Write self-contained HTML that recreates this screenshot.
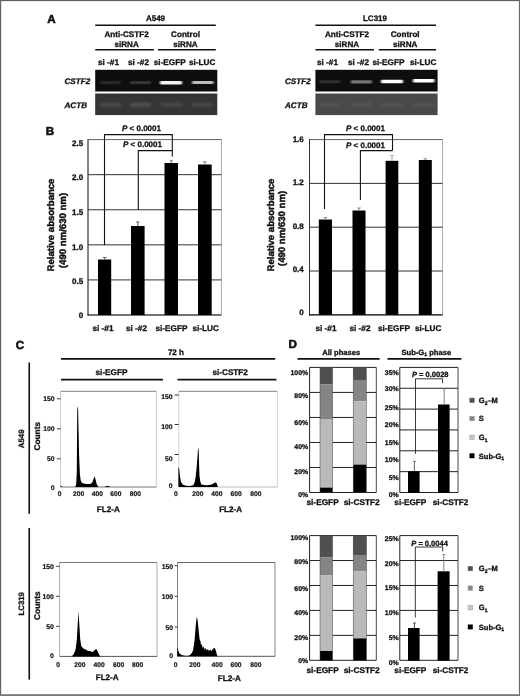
<!DOCTYPE html>
<html lang="en">
<head>
<meta charset="utf-8">
<title>CSTF2 knockdown figure</title>
<style>
html,body{margin:0;padding:0;background:#fff;}
body{width:520px;height:696px;overflow:hidden;}
svg{display:block;font-family:"Liberation Sans",Arial,Helvetica,sans-serif;font-weight:bold;}
text{stroke:#111;stroke-width:.3px;paint-order:stroke;text-rendering:geometricPrecision;}
.pl{stroke-width:.6px;}
.yl{stroke-width:.45px;}
.tk{stroke-width:.3px;}
.fk{stroke-width:.18px;}
.pk{stroke-width:.28px;}
</style>
</head>
<body>
<svg width="520" height="696" viewBox="0 0 520 696">
<defs>
<filter id="bl" x="-20%" y="-100%" width="140%" height="300%"><feGaussianBlur stdDeviation="1.1 0.7"/></filter>
<filter id="bl2" x="-20%" y="-100%" width="140%" height="300%"><feGaussianBlur stdDeviation="1.5 1.2"/></filter>
<filter id="soft"><feGaussianBlur stdDeviation="0.35"/></filter>
</defs>
<rect x="0" y="0" width="520" height="696" fill="#fff"/>
<g>
<g id="panelA">
<text x="47.3" y="22.7" font-size="11.6" text-anchor="start" fill="#111" class="pl">A</text>
<text x="155.5" y="20.6" font-size="8" text-anchor="middle" fill="#111">A549</text>
<line x1="95.2" y1="25.15" x2="215.8" y2="25.15" stroke="#111" stroke-width="1.5"/>
<text x="126.6" y="37" font-size="8.15" text-anchor="middle" fill="#111">Anti-CSTF2</text>
<text x="126.6" y="47" font-size="8.1" text-anchor="middle" fill="#111">siRNA</text>
<text x="185.5" y="37" font-size="8.15" text-anchor="middle" fill="#111">Control</text>
<text x="185.5" y="47" font-size="8.1" text-anchor="middle" fill="#111">siRNA</text>
<line x1="95.2" y1="49.8" x2="153.8" y2="49.8" stroke="#111" stroke-width="1.6"/>
<line x1="158" y1="49.8" x2="215.8" y2="49.8" stroke="#111" stroke-width="1.6"/>
<text x="98" y="64.6" font-size="8.2" text-anchor="start" fill="#111">si -#1</text>
<text x="128" y="64.6" font-size="8.2" text-anchor="start" fill="#111">si -#2</text>
<text x="153.8" y="64.6" font-size="8.2" text-anchor="start" fill="#111">si-EGFP</text>
<text x="189" y="64.6" font-size="8.2" text-anchor="start" fill="#111">si-LUC</text>
<text x="64.5" y="84.2" font-size="8.1" text-anchor="start" font-style="italic" fill="#111">CSTF2</text>
<text x="64.5" y="108.2" font-size="8.1" text-anchor="start" font-style="italic" fill="#111">ACTB</text>
<rect x="95.2" y="69.8" width="122.10000000000001" height="21.7" fill="#0e0e0e"/>
<rect x="95.2" y="93.5" width="122.10000000000001" height="21.6" fill="#353535"/>
<rect x="100" y="80.89999999999999" width="21" height="3.4" rx="1" fill="#777" opacity="0.24" filter="url(#bl)"/>
<rect x="130" y="80.89999999999999" width="21" height="3.4" rx="1" fill="#888" opacity="0.32" filter="url(#bl)"/>
<rect x="160" y="80.9" width="22" height="3.6" rx="1" fill="#fff" opacity="0.95" filter="url(#bl)"/>
<rect x="192" y="80.9" width="21.5" height="3.2" rx="1" fill="#eee" opacity="0.78" filter="url(#bl)"/>
<rect x="100" y="102.45" width="21" height="4.5" rx="1" fill="#777" opacity="0.3" filter="url(#bl2)"/>
<rect x="130" y="102.45" width="21" height="4.5" rx="1" fill="#777" opacity="0.38" filter="url(#bl2)"/>
<rect x="160.5" y="102.45" width="21.5" height="4.5" rx="1" fill="#777" opacity="0.28" filter="url(#bl2)"/>
<rect x="192" y="102.45" width="21" height="4.5" rx="1" fill="#777" opacity="0.28" filter="url(#bl2)"/>
<text x="375" y="20.6" font-size="8" text-anchor="middle" fill="#111">LC319</text>
<line x1="315.4" y1="25.15" x2="436.1" y2="25.15" stroke="#111" stroke-width="1.5"/>
<text x="347" y="37" font-size="8.15" text-anchor="middle" fill="#111">Anti-CSTF2</text>
<text x="347" y="47" font-size="8.1" text-anchor="middle" fill="#111">siRNA</text>
<text x="405.2" y="37" font-size="8.15" text-anchor="middle" fill="#111">Control</text>
<text x="405.2" y="47" font-size="8.1" text-anchor="middle" fill="#111">siRNA</text>
<line x1="315.4" y1="49.8" x2="374" y2="49.8" stroke="#111" stroke-width="1.6"/>
<line x1="378.8" y1="49.8" x2="436.1" y2="49.8" stroke="#111" stroke-width="1.6"/>
<text x="317" y="64.6" font-size="8.2" text-anchor="start" fill="#111">si -#1</text>
<text x="348" y="64.6" font-size="8.2" text-anchor="start" fill="#111">si -#2</text>
<text x="372.5" y="64.6" font-size="8.2" text-anchor="start" fill="#111">si-EGFP</text>
<text x="410" y="64.6" font-size="8.2" text-anchor="start" fill="#111">si-LUC</text>
<text x="285" y="84.2" font-size="8.1" text-anchor="start" font-style="italic" fill="#111">CSTF2</text>
<text x="285" y="108.2" font-size="8.1" text-anchor="start" font-style="italic" fill="#111">ACTB</text>
<rect x="315.4" y="69.8" width="122.20000000000005" height="21.7" fill="#0e0e0e"/>
<rect x="315.4" y="93.5" width="122.20000000000005" height="21.6" fill="#494949"/>
<rect x="319.5" y="80.3" width="20.5" height="3" rx="1" fill="#888" opacity="0.28" filter="url(#bl)"/>
<rect x="350.8" y="80.2" width="21.19999999999999" height="3.2" rx="1" fill="#bbb" opacity="0.6" filter="url(#bl)"/>
<rect x="381" y="79.7" width="22" height="3.6" rx="1" fill="#fff" opacity="1" filter="url(#bl)"/>
<rect x="413" y="79.1" width="21.5" height="3.4" rx="1" fill="#fff" opacity="1" filter="url(#bl)"/>
<rect x="319.5" y="102.75" width="20.5" height="3.5" rx="1" fill="#888" opacity="0.18" filter="url(#bl2)"/>
<rect x="350.8" y="102.75" width="21.19999999999999" height="3.5" rx="1" fill="#888" opacity="0.2" filter="url(#bl2)"/>
<rect x="381" y="102.75" width="22" height="3.5" rx="1" fill="#888" opacity="0.18" filter="url(#bl2)"/>
<rect x="413" y="102.75" width="21.5" height="3.5" rx="1" fill="#888" opacity="0.18" filter="url(#bl2)"/>
</g>
<g id="panelB">
<text x="45.8" y="134.6" font-size="11.6" text-anchor="start" fill="#111" class="pl">B</text>
<rect x="88" y="139.6" width="133.3" height="175.4" fill="#fff" stroke="#888" stroke-width="0.7"/>
<line x1="88" y1="174.68" x2="221.3" y2="174.68" stroke="#333" stroke-width="1.0"/>
<line x1="88" y1="209.76" x2="221.3" y2="209.76" stroke="#333" stroke-width="1.0"/>
<line x1="88" y1="244.83999999999997" x2="221.3" y2="244.83999999999997" stroke="#333" stroke-width="1.0"/>
<line x1="88" y1="279.91999999999996" x2="221.3" y2="279.91999999999996" stroke="#333" stroke-width="1.0"/>
<line x1="88" y1="139.6" x2="221.3" y2="139.6" stroke="#555" stroke-width="0.8"/>
<line x1="88" y1="139.29999999999998" x2="88" y2="315.5" stroke="#333" stroke-width="1.0"/>
<line x1="87.5" y1="315" x2="221.3" y2="315" stroke="#111" stroke-width="1.2"/>
<text x="83.2" y="145.8" font-size="8" text-anchor="end" fill="#111" class="tk">2.5</text>
<text x="83.2" y="180.3" font-size="8" text-anchor="end" fill="#111" class="tk">2.0</text>
<text x="83.2" y="215" font-size="8" text-anchor="end" fill="#111" class="tk">1.5</text>
<text x="83.2" y="249.5" font-size="8" text-anchor="end" fill="#111" class="tk">1.0</text>
<text x="83.2" y="283.8" font-size="8" text-anchor="end" fill="#111" class="tk">0.5</text>
<text x="83.2" y="317.8" font-size="8" text-anchor="end" fill="#111" class="tk">0</text>
<rect x="98" y="259.5" width="13.200000000000003" height="55.5" fill="#000"/>
<rect x="131" y="226" width="13.599999999999994" height="89" fill="#000"/>
<rect x="164.5" y="163" width="13.5" height="152" fill="#000"/>
<rect x="198" y="164.5" width="13.699999999999989" height="150.5" fill="#000"/>
<line x1="104.6" y1="257.5" x2="104.6" y2="259.5" stroke="#444" stroke-width="0.9"/>
<line x1="102.8" y1="257.5" x2="106.39999999999999" y2="257.5" stroke="#444" stroke-width="0.8"/>
<line x1="137.8" y1="222" x2="137.8" y2="226" stroke="#444" stroke-width="0.9"/>
<line x1="136.0" y1="222" x2="139.60000000000002" y2="222" stroke="#444" stroke-width="0.8"/>
<line x1="171.3" y1="160.8" x2="171.3" y2="163" stroke="#666" stroke-width="0.9"/>
<line x1="169.5" y1="160.8" x2="173.10000000000002" y2="160.8" stroke="#666" stroke-width="0.8"/>
<line x1="204.8" y1="161.8" x2="204.8" y2="164.5" stroke="#666" stroke-width="0.9"/>
<line x1="203.0" y1="161.8" x2="206.60000000000002" y2="161.8" stroke="#666" stroke-width="0.8"/>
<text x="92.5" y="330.6" font-size="8.2" text-anchor="start" fill="#111">si -#1</text>
<text x="126" y="330.6" font-size="8.2" text-anchor="start" fill="#111">si -#2</text>
<text x="155.5" y="330.6" font-size="8.2" text-anchor="start" fill="#111">si-EGFP</text>
<text x="192.5" y="330.6" font-size="8.2" text-anchor="start" fill="#111">si-LUC</text>
<text x="54.1" y="225" font-size="9.55" text-anchor="middle" transform="rotate(-90 54.1 225)" fill="#111" class="yl">Relative absorbance</text>
<text x="65.7" y="230.5" font-size="9.6" text-anchor="middle" transform="rotate(-90 65.7 230.5)" fill="#111" class="yl">(490 nm/630 nm)</text>
<polyline points="104.5,245 104.5,134.6 172.3,134.6 172.3,156.5" fill="none" stroke="#111" stroke-width="1.1"/>
<polyline points="138.3,210 138.3,150.6 172.3,150.6" fill="none" stroke="#111" stroke-width="1.1"/>
<text x="122" y="130.6" font-size="8" fill="#111"><tspan font-style="italic">P</tspan> &lt; 0.0001</text>
<text x="123" y="147" font-size="8" fill="#111"><tspan font-style="italic">P</tspan> &lt; 0.0001</text>
<rect x="309.5" y="139.6" width="133.0" height="175.20000000000002" fill="#fff" stroke="#888" stroke-width="0.7"/>
<line x1="309.5" y1="183.4" x2="442.5" y2="183.4" stroke="#333" stroke-width="1.0"/>
<line x1="309.5" y1="227.2" x2="442.5" y2="227.2" stroke="#333" stroke-width="1.0"/>
<line x1="309.5" y1="271.0" x2="442.5" y2="271.0" stroke="#333" stroke-width="1.0"/>
<line x1="309.5" y1="139.6" x2="442.5" y2="139.6" stroke="#555" stroke-width="0.8"/>
<line x1="309.5" y1="139.29999999999998" x2="309.5" y2="315.3" stroke="#333" stroke-width="1.0"/>
<line x1="309.0" y1="314.8" x2="442.5" y2="314.8" stroke="#111" stroke-width="1.2"/>
<text x="303.8" y="141.9" font-size="8" text-anchor="end" fill="#111" class="tk">1.6</text>
<text x="303.8" y="185" font-size="8" text-anchor="end" fill="#111" class="tk">1.2</text>
<text x="303.8" y="228.7" font-size="8" text-anchor="end" fill="#111" class="tk">0.8</text>
<text x="303.8" y="271.8" font-size="8" text-anchor="end" fill="#111" class="tk">0.4</text>
<text x="303.8" y="315" font-size="8" text-anchor="end" fill="#111" class="tk">0</text>
<rect x="318.8" y="219.5" width="13.199999999999989" height="95.30000000000001" fill="#000"/>
<rect x="352.5" y="210.5" width="13.0" height="104.30000000000001" fill="#000"/>
<rect x="385.6" y="160.8" width="12.699999999999989" height="154.0" fill="#000"/>
<rect x="418.8" y="160" width="13.0" height="154.8" fill="#000"/>
<line x1="325.4" y1="217.5" x2="325.4" y2="219.5" stroke="#777" stroke-width="0.9"/>
<line x1="323.59999999999997" y1="217.5" x2="327.2" y2="217.5" stroke="#777" stroke-width="0.8"/>
<line x1="359" y1="208" x2="359" y2="210.5" stroke="#777" stroke-width="0.9"/>
<line x1="357.2" y1="208" x2="360.8" y2="208" stroke="#777" stroke-width="0.8"/>
<line x1="392" y1="155.5" x2="392" y2="160.8" stroke="#999" stroke-width="0.9"/>
<line x1="390.2" y1="155.5" x2="393.8" y2="155.5" stroke="#999" stroke-width="0.8"/>
<line x1="425.3" y1="158.8" x2="425.3" y2="160" stroke="#777" stroke-width="0.9"/>
<line x1="423.5" y1="158.8" x2="427.1" y2="158.8" stroke="#777" stroke-width="0.8"/>
<text x="315.5" y="330.6" font-size="8.2" text-anchor="start" fill="#111">si -#1</text>
<text x="349.5" y="330.6" font-size="8.2" text-anchor="start" fill="#111">si -#2</text>
<text x="378" y="330.6" font-size="8.2" text-anchor="start" fill="#111">si-EGFP</text>
<text x="415" y="330.6" font-size="8.2" text-anchor="start" fill="#111">si-LUC</text>
<text x="273.8" y="225" font-size="9.55" text-anchor="middle" transform="rotate(-90 273.8 225)" fill="#111" class="yl">Relative absorbance</text>
<text x="284.6" y="228.4" font-size="9.6" text-anchor="middle" transform="rotate(-90 284.6 228.4)" fill="#111" class="yl">(490 nm/630 nm)</text>
<polyline points="324.5,209 324.5,134.6 392.5,134.6 392.5,150.6" fill="none" stroke="#111" stroke-width="1.1"/>
<polyline points="360.4,200 360.4,150.6 392.5,150.6" fill="none" stroke="#111" stroke-width="1.1"/>
<text x="346" y="130.6" font-size="8" fill="#111"><tspan font-style="italic">P</tspan> &lt; 0.0001</text>
<text x="346" y="147.6" font-size="8" fill="#111"><tspan font-style="italic">P</tspan> &lt; 0.0001</text>
</g>
<g id="panelC">
<text x="15.8" y="348.9" font-size="11.6" text-anchor="start" fill="#111" class="pl">C</text>
<text x="175.9" y="354.6" font-size="8" text-anchor="middle" fill="#111">72 h</text>
<line x1="61" y1="358.95" x2="275.2" y2="358.95" stroke="#111" stroke-width="1.7"/>
<text x="111.5" y="375" font-size="8.2" text-anchor="middle" fill="#111">si-EGFP</text>
<text x="230.2" y="375" font-size="8.2" text-anchor="middle" fill="#111">si-CSTF2</text>
<line x1="61" y1="379.6" x2="163" y2="379.6" stroke="#111" stroke-width="1.7"/>
<line x1="177.5" y1="379.6" x2="276.4" y2="379.6" stroke="#111" stroke-width="1.7"/>
<line x1="29.25" y1="362.5" x2="29.25" y2="513.8" stroke="#111" stroke-width="1.6"/>
<line x1="29.25" y1="528" x2="29.25" y2="679.6" stroke="#111" stroke-width="1.6"/>
<text x="23.8" y="438.8" font-size="7.8" text-anchor="middle" transform="rotate(-90 23.8 438.8)" fill="#111">A549</text>
<text x="23.7" y="603.8" font-size="7.8" text-anchor="middle" transform="rotate(-90 23.7 603.8)" fill="#111">LC319</text>
<text x="39.6" y="436.2" font-size="8.3" text-anchor="middle" transform="rotate(-90 39.6 436.2)" fill="#111">Counts</text>
<text x="39.6" y="605.6" font-size="8.3" text-anchor="middle" transform="rotate(-90 39.6 605.6)" fill="#111">Counts</text>
<line x1="60.6" y1="391.4" x2="60.6" y2="487" stroke="#bbb" stroke-width="0.8"/>
<line x1="156.3" y1="391.4" x2="156.3" y2="487" stroke="#bbb" stroke-width="0.8"/>
<line x1="60.6" y1="391.4" x2="156.3" y2="391.4" stroke="#999" stroke-width="1.1"/>
<line x1="60.6" y1="487" x2="156.3" y2="487" stroke="#777" stroke-width="1.0"/>
<text x="54.6" y="401.2" font-size="6.8" text-anchor="end" fill="#111" class="fk">150</text>
<line x1="57" y1="398.8" x2="60.6" y2="398.8" stroke="#222" stroke-width="0.9"/>
<text x="54.6" y="431.2" font-size="6.8" text-anchor="end" fill="#111" class="fk">100</text>
<line x1="57" y1="428.8" x2="60.6" y2="428.8" stroke="#222" stroke-width="0.9"/>
<text x="54.6" y="461.2" font-size="6.8" text-anchor="end" fill="#111" class="fk">50</text>
<line x1="57" y1="458.8" x2="60.6" y2="458.8" stroke="#222" stroke-width="0.9"/>
<text x="54.6" y="489.8" font-size="6.8" text-anchor="end" fill="#111" class="fk">0</text>
<text x="59.5" y="496.4" font-size="6.7" text-anchor="middle" fill="#111" class="fk">0</text>
<text x="78.6" y="496.4" font-size="6.7" text-anchor="middle" fill="#111" class="fk">200</text>
<text x="97.4" y="496.4" font-size="6.7" text-anchor="middle" fill="#111" class="fk">400</text>
<text x="115.8" y="496.4" font-size="6.7" text-anchor="middle" fill="#111" class="fk">600</text>
<text x="135.4" y="496.4" font-size="6.7" text-anchor="middle" fill="#111" class="fk">800</text>
<text x="108.3" y="512.1" font-size="8.1" text-anchor="middle" fill="#111">FL2-A</text>
<polygon points="75.3,487 76.2,484 76.8,472 77.0,440 77.25,410 77.6,406 78.1,409 78.5,428 79.1,455 79.9,474 80.7,480.5 82,483 86,484 90,484 92,483 93.4,479.5 94.5,476.2 95.6,479.5 96.8,484.5 98.6,487" fill="#000"/>
<polygon points="104.5,487 107.5,485.8 110.5,487" fill="#000"/>
<polygon points="60.6,485.3 62.2,487 60.6,487" fill="#000"/>
<line x1="178.8" y1="391.4" x2="178.8" y2="487" stroke="#ccc" stroke-width="0.8"/>
<line x1="277.4" y1="391.4" x2="277.4" y2="487" stroke="#ccc" stroke-width="0.8"/>
<line x1="178.8" y1="391.4" x2="277.4" y2="391.4" stroke="#999" stroke-width="1.1"/>
<line x1="178.8" y1="487" x2="277.4" y2="487" stroke="#bbb" stroke-width="1.0"/>
<text x="172.6" y="398.8" font-size="6.8" text-anchor="end" fill="#111" class="fk">150</text>
<line x1="174.6" y1="395" x2="178.8" y2="395" stroke="#222" stroke-width="0.9"/>
<text x="172.6" y="428.8" font-size="6.8" text-anchor="end" fill="#111" class="fk">100</text>
<line x1="174.6" y1="424.5" x2="178.8" y2="424.5" stroke="#222" stroke-width="0.9"/>
<text x="172.6" y="460.5" font-size="6.8" text-anchor="end" fill="#111" class="fk">50</text>
<line x1="174.6" y1="454.5" x2="178.8" y2="454.5" stroke="#222" stroke-width="0.9"/>
<text x="172.6" y="488" font-size="6.8" text-anchor="end" fill="#111" class="fk">0</text>
<text x="175.8" y="496.4" font-size="6.7" text-anchor="middle" fill="#111" class="fk">0</text>
<text x="197.8" y="496.4" font-size="6.7" text-anchor="middle" fill="#111" class="fk">200</text>
<text x="216.9" y="496.4" font-size="6.7" text-anchor="middle" fill="#111" class="fk">400</text>
<text x="236.2" y="496.4" font-size="6.7" text-anchor="middle" fill="#111" class="fk">600</text>
<text x="255.9" y="496.4" font-size="6.7" text-anchor="middle" fill="#111" class="fk">800</text>
<text x="230.6" y="512.1" font-size="8.1" text-anchor="middle" fill="#111">FL2-A</text>
<polygon points="178.4,487 178.4,467 179.2,468.5 179.9,476 181,482 183,484.8 186,485.8 190,486 193.2,485.2 194.6,482.5 195.6,477.5 196.6,468 197.4,458 197.9,450 198.3,447.6 198.7,451 199.1,465 199.5,476 200.3,481.5 201.3,484.4 206,485.3 211,484.8 213.5,483.6 215.6,482.3 216.8,483.6 218,487" fill="#000"/>
<line x1="59.6" y1="562.5" x2="59.6" y2="656.4" stroke="#999" stroke-width="0.8"/>
<line x1="157" y1="562.5" x2="157" y2="656.4" stroke="#999" stroke-width="0.8"/>
<line x1="59.6" y1="562.5" x2="157" y2="562.5" stroke="#777" stroke-width="1.1"/>
<line x1="59.6" y1="656.4" x2="157" y2="656.4" stroke="#555" stroke-width="1.0"/>
<text x="53.8" y="568.7" font-size="6.8" text-anchor="end" fill="#111" class="fk">150</text>
<line x1="56.2" y1="566.3" x2="59.6" y2="566.3" stroke="#222" stroke-width="0.9"/>
<text x="53.8" y="598.7" font-size="6.8" text-anchor="end" fill="#111" class="fk">100</text>
<line x1="56.2" y1="596.3" x2="59.6" y2="596.3" stroke="#222" stroke-width="0.9"/>
<text x="53.8" y="628.7" font-size="6.8" text-anchor="end" fill="#111" class="fk">50</text>
<line x1="56.2" y1="626.3" x2="59.6" y2="626.3" stroke="#222" stroke-width="0.9"/>
<text x="53.8" y="658" font-size="6.8" text-anchor="end" fill="#111" class="fk">0</text>
<text x="58" y="667.4" font-size="6.7" text-anchor="middle" fill="#111" class="fk">0</text>
<text x="79.8" y="667.4" font-size="6.7" text-anchor="middle" fill="#111" class="fk">200</text>
<text x="99.1" y="667.4" font-size="6.7" text-anchor="middle" fill="#111" class="fk">400</text>
<text x="118.6" y="667.4" font-size="6.7" text-anchor="middle" fill="#111" class="fk">600</text>
<text x="137.6" y="667.4" font-size="6.7" text-anchor="middle" fill="#111" class="fk">800</text>
<text x="107.2" y="679.9" font-size="8.1" text-anchor="middle" fill="#111">FL2-A</text>
<polygon points="71.5,656.4 73.5,654.5 75.5,650 76.8,640 77.7,624 78.5,611.5 79.3,624 80.2,639 81.2,646 82.5,647.5 84,649 86,649.5 88,651 90,651 92,652 94,651 95.3,649.6 96.3,649 97.5,651 98.8,654 100.2,656.4" fill="#000"/>
<line x1="177.5" y1="562.5" x2="177.5" y2="656.3" stroke="#666" stroke-width="0.8"/>
<line x1="275" y1="562.5" x2="275" y2="656.3" stroke="#666" stroke-width="0.8"/>
<line x1="177.5" y1="562.5" x2="275" y2="562.5" stroke="#666" stroke-width="1.1"/>
<line x1="177.5" y1="656.3" x2="275" y2="656.3" stroke="#555" stroke-width="1.0"/>
<text x="173" y="568.6" font-size="6.8" text-anchor="end" fill="#111" class="fk">150</text>
<line x1="174.6" y1="565.8" x2="177.5" y2="565.8" stroke="#222" stroke-width="0.9"/>
<text x="173" y="599" font-size="6.8" text-anchor="end" fill="#111" class="fk">100</text>
<line x1="174.6" y1="596.3" x2="177.5" y2="596.3" stroke="#222" stroke-width="0.9"/>
<text x="173" y="629.8" font-size="6.8" text-anchor="end" fill="#111" class="fk">50</text>
<line x1="174.6" y1="627" x2="177.5" y2="627" stroke="#222" stroke-width="0.9"/>
<text x="173" y="657.8" font-size="6.8" text-anchor="end" fill="#111" class="fk">0</text>
<text x="175.6" y="666.9" font-size="6.7" text-anchor="middle" fill="#111" class="fk">0</text>
<text x="194.9" y="666.9" font-size="6.7" text-anchor="middle" fill="#111" class="fk">200</text>
<text x="217.2" y="666.9" font-size="6.7" text-anchor="middle" fill="#111" class="fk">400</text>
<text x="236" y="666.9" font-size="6.7" text-anchor="middle" fill="#111" class="fk">600</text>
<text x="255.9" y="666.9" font-size="6.7" text-anchor="middle" fill="#111" class="fk">800</text>
<text x="229.3" y="680.6" font-size="8.1" text-anchor="middle" fill="#111">FL2-A</text>
<polygon points="177.2,656.3 177.2,647 178.1,650 179.3,653.3 181.5,655 185,655.8 188.5,655.8 190.3,654.8 191.8,653 193,650.5 193.8,646 194.6,640 195.3,631 196,623 196.6,618 197,617.5 197.5,619.5 198.2,626 198.9,633 199.6,639 200.4,641 201,645 201.8,644 202.6,648 203.6,646.5 204.6,649.5 205.6,648 206.6,650.5 207.8,649 209,651 210.2,649.5 211.4,651 212.6,649.5 213.6,648.2 214.4,647.8 215.3,649 216.1,651.5 217,655 217.6,656.3" fill="#000"/>
</g>
<g id="panelD">
<text x="288.4" y="348.2" font-size="11.6" text-anchor="start" fill="#111" class="pl">D</text>
<text x="341.2" y="354.6" font-size="7.6" text-anchor="middle" fill="#111">All phases</text>
<text x="426.3" y="354.6" font-size="7.6" text-anchor="middle" fill="#111">Sub-G<tspan font-size="5" dy="1.6">1</tspan><tspan dy="-1.6"> phase</tspan></text>
<line x1="297.5" y1="358.95" x2="379.6" y2="358.95" stroke="#111" stroke-width="1.7"/>
<line x1="387.5" y1="358.95" x2="461.4" y2="358.95" stroke="#111" stroke-width="1.7"/>
<rect x="309.6" y="367.4" width="66.69999999999999" height="125.10000000000002" fill="#fff"/>
<line x1="309.6" y1="367.4" x2="376.3" y2="367.4" stroke="#222" stroke-width="1.0"/>
<line x1="309.6" y1="392.41999999999996" x2="376.3" y2="392.41999999999996" stroke="#222" stroke-width="1.0"/>
<line x1="309.6" y1="417.44" x2="376.3" y2="417.44" stroke="#222" stroke-width="1.0"/>
<line x1="309.6" y1="442.46" x2="376.3" y2="442.46" stroke="#222" stroke-width="1.0"/>
<line x1="309.6" y1="467.48" x2="376.3" y2="467.48" stroke="#222" stroke-width="1.0"/>
<line x1="309.6" y1="492.5" x2="376.3" y2="492.5" stroke="#222" stroke-width="1.0"/>
<line x1="309.6" y1="367.4" x2="309.6" y2="492.5" stroke="#222" stroke-width="1.0"/>
<line x1="376.3" y1="367.4" x2="376.3" y2="492.5" stroke="#333" stroke-width="0.9"/>
<text x="308.1" y="375" font-size="6.9" text-anchor="end" fill="#111" class="pk">100%</text>
<text x="308.1" y="398.3" font-size="6.9" text-anchor="end" fill="#111" class="pk">80%</text>
<text x="308.1" y="425" font-size="6.9" text-anchor="end" fill="#111" class="pk">60%</text>
<text x="308.1" y="448.7" font-size="6.9" text-anchor="end" fill="#111" class="pk">40%</text>
<text x="308.1" y="473.8" font-size="6.9" text-anchor="end" fill="#111" class="pk">20%</text>
<text x="308.1" y="496.8" font-size="6.9" text-anchor="end" fill="#111" class="pk">0%</text>
<rect x="320" y="367.4" width="12.600000000000023" height="17.100000000000023" fill="#4f4f4f"/>
<rect x="320" y="384.5" width="12.600000000000023" height="34.5" fill="#858585"/>
<rect x="320" y="419" width="12.600000000000023" height="68.60000000000002" fill="#b9b9b9"/>
<rect x="320" y="487.6" width="12.600000000000023" height="5.299999999999978" fill="#000"/>
<rect x="320" y="367.4" width="12.600000000000023" height="125.10000000000002" fill="none" stroke="#444" stroke-width="0.5"/>
<rect x="353.2" y="367.4" width="13.100000000000023" height="12.600000000000023" fill="#4f4f4f"/>
<rect x="353.2" y="380" width="13.100000000000023" height="21.399999999999977" fill="#858585"/>
<rect x="353.2" y="401.4" width="13.100000000000023" height="63.200000000000045" fill="#b9b9b9"/>
<rect x="353.2" y="464.6" width="13.100000000000023" height="28.299999999999976" fill="#000"/>
<rect x="353.2" y="367.4" width="13.100000000000023" height="125.10000000000002" fill="none" stroke="#444" stroke-width="0.5"/>
<text x="322.6" y="505.2" font-size="8.3" text-anchor="middle" fill="#111">si-EGFP</text>
<text x="361.7" y="505.2" font-size="8.3" text-anchor="middle" fill="#111">si-CSTF2</text>
<rect x="399.8" y="367.4" width="58.19999999999999" height="125.10000000000002" fill="#fff"/>
<line x1="399.8" y1="367.4" x2="458" y2="367.4" stroke="#222" stroke-width="1.0"/>
<line x1="399.8" y1="388.25" x2="458" y2="388.25" stroke="#222" stroke-width="1.0"/>
<line x1="399.8" y1="409.09999999999997" x2="458" y2="409.09999999999997" stroke="#222" stroke-width="1.0"/>
<line x1="399.8" y1="429.95" x2="458" y2="429.95" stroke="#222" stroke-width="1.0"/>
<line x1="399.8" y1="450.8" x2="458" y2="450.8" stroke="#222" stroke-width="1.0"/>
<line x1="399.8" y1="471.65" x2="458" y2="471.65" stroke="#222" stroke-width="1.0"/>
<line x1="399.8" y1="492.5" x2="458" y2="492.5" stroke="#222" stroke-width="1.0"/>
<line x1="399.8" y1="367.4" x2="399.8" y2="492.5" stroke="#222" stroke-width="1.0"/>
<line x1="458" y1="367.4" x2="458" y2="492.5" stroke="#333" stroke-width="0.9"/>
<text x="398.6" y="374.5" font-size="6.9" text-anchor="end" fill="#111" class="pk">35%</text>
<text x="398.6" y="391.3" font-size="6.9" text-anchor="end" fill="#111" class="pk">30%</text>
<text x="398.6" y="409.5" font-size="6.9" text-anchor="end" fill="#111" class="pk">25%</text>
<text x="398.6" y="427" font-size="6.9" text-anchor="end" fill="#111" class="pk">20%</text>
<text x="398.6" y="445" font-size="6.9" text-anchor="end" fill="#111" class="pk">15%</text>
<text x="398.6" y="462" font-size="6.9" text-anchor="end" fill="#111" class="pk">10%</text>
<text x="398.6" y="479.5" font-size="6.9" text-anchor="end" fill="#111" class="pk">5%</text>
<text x="398.6" y="496.8" font-size="6.9" text-anchor="end" fill="#111" class="pk">0%</text>
<rect x="408" y="471.2" width="11.600000000000023" height="21.70000000000001" fill="#000"/>
<rect x="438" y="404.5" width="11.600000000000023" height="88.4" fill="#000"/>
<line x1="414.4" y1="461.3" x2="414.4" y2="471.2" stroke="#555" stroke-width="0.9"/>
<line x1="412.9" y1="461.3" x2="415.9" y2="461.3" stroke="#555" stroke-width="0.8"/>
<line x1="444.2" y1="388.8" x2="444.2" y2="404.5" stroke="#777" stroke-width="0.9"/>
<line x1="442.7" y1="388.8" x2="445.7" y2="388.8" stroke="#777" stroke-width="0.8"/>
<polyline points="415.5,453.8 415.5,378.8 442.5,378.8 442.5,383.2" fill="none" stroke="#222" stroke-width="0.9"/>
<text x="412" y="377.1" font-size="7.5" fill="#111"><tspan font-style="italic">P</tspan> = 0.0028</text>
<text x="410.3" y="505.2" font-size="8.2" text-anchor="middle" fill="#111">si-EGFP</text>
<text x="450.5" y="505.2" font-size="8.2" text-anchor="middle" fill="#111">si-CSTF2</text>
<rect x="469.8" y="398.1" width="4.4" height="4.4" fill="#4f4f4f" stroke="#666" stroke-width="0.6"/>
<text x="478.8" y="403.0" font-size="7.5" fill="#111">G<tspan font-size="5" dy="1.6">2</tspan><tspan dy="-1.6">–M</tspan></text>
<rect x="469.8" y="416.40000000000003" width="4.4" height="4.4" fill="#858585" stroke="#999" stroke-width="0.6"/>
<text x="478.8" y="421.3" font-size="7.5" fill="#111">S</text>
<rect x="469.8" y="435.1" width="4.4" height="4.4" fill="#c8c8c8" stroke="#a0a0a0" stroke-width="0.6"/>
<text x="478.8" y="440.0" font-size="7.5" fill="#111">G<tspan font-size="5" dy="1.6">1</tspan></text>
<rect x="469.5" y="453.3" width="5" height="4.9" fill="#000"/>
<text x="478.8" y="458.5" font-size="7.5" fill="#111">Sub-G<tspan font-size="5" dy="1.6">1</tspan></text>
<rect x="309.6" y="535.6" width="66.69999999999999" height="124.69999999999993" fill="#fff"/>
<line x1="309.6" y1="535.6" x2="376.3" y2="535.6" stroke="#222" stroke-width="1.0"/>
<line x1="309.6" y1="560.54" x2="376.3" y2="560.54" stroke="#222" stroke-width="1.0"/>
<line x1="309.6" y1="585.48" x2="376.3" y2="585.48" stroke="#222" stroke-width="1.0"/>
<line x1="309.6" y1="610.42" x2="376.3" y2="610.42" stroke="#222" stroke-width="1.0"/>
<line x1="309.6" y1="635.36" x2="376.3" y2="635.36" stroke="#222" stroke-width="1.0"/>
<line x1="309.6" y1="660.3" x2="376.3" y2="660.3" stroke="#222" stroke-width="1.0"/>
<line x1="309.6" y1="535.6" x2="309.6" y2="660.3" stroke="#222" stroke-width="1.0"/>
<line x1="376.3" y1="535.6" x2="376.3" y2="660.3" stroke="#333" stroke-width="0.9"/>
<text x="308.1" y="540" font-size="6.9" text-anchor="end" fill="#111" class="pk">100%</text>
<text x="308.1" y="563.8" font-size="6.9" text-anchor="end" fill="#111" class="pk">80%</text>
<text x="308.1" y="590.5" font-size="6.9" text-anchor="end" fill="#111" class="pk">60%</text>
<text x="308.1" y="614.7" font-size="6.9" text-anchor="end" fill="#111" class="pk">40%</text>
<text x="308.1" y="639.7" font-size="6.9" text-anchor="end" fill="#111" class="pk">20%</text>
<text x="308.1" y="663" font-size="6.9" text-anchor="end" fill="#111" class="pk">0%</text>
<rect x="320" y="535.6" width="12.600000000000023" height="21.899999999999977" fill="#4f4f4f"/>
<rect x="320" y="557.5" width="12.600000000000023" height="17.600000000000023" fill="#858585"/>
<rect x="320" y="575.1" width="12.600000000000023" height="75.89999999999998" fill="#b9b9b9"/>
<rect x="320" y="651" width="12.600000000000023" height="9.699999999999955" fill="#000"/>
<rect x="320" y="535.6" width="12.600000000000023" height="124.69999999999993" fill="none" stroke="#444" stroke-width="0.5"/>
<rect x="353.2" y="535.6" width="13.300000000000011" height="19.399999999999977" fill="#4f4f4f"/>
<rect x="353.2" y="555" width="13.300000000000011" height="16.299999999999955" fill="#858585"/>
<rect x="353.2" y="571.3" width="13.300000000000011" height="67.10000000000002" fill="#b9b9b9"/>
<rect x="353.2" y="638.4" width="13.300000000000011" height="22.299999999999976" fill="#000"/>
<rect x="353.2" y="535.6" width="13.300000000000011" height="124.69999999999993" fill="none" stroke="#444" stroke-width="0.5"/>
<text x="322.6" y="673.1" font-size="8.3" text-anchor="middle" fill="#111">si-EGFP</text>
<text x="361.7" y="673.1" font-size="8.3" text-anchor="middle" fill="#111">si-CSTF2</text>
<rect x="399.8" y="535.6" width="58.19999999999999" height="124.69999999999993" fill="#fff"/>
<line x1="399.8" y1="535.6" x2="458" y2="535.6" stroke="#222" stroke-width="1.0"/>
<line x1="399.8" y1="560.54" x2="458" y2="560.54" stroke="#222" stroke-width="1.0"/>
<line x1="399.8" y1="585.48" x2="458" y2="585.48" stroke="#222" stroke-width="1.0"/>
<line x1="399.8" y1="610.42" x2="458" y2="610.42" stroke="#222" stroke-width="1.0"/>
<line x1="399.8" y1="635.36" x2="458" y2="635.36" stroke="#222" stroke-width="1.0"/>
<line x1="399.8" y1="660.3" x2="458" y2="660.3" stroke="#222" stroke-width="1.0"/>
<line x1="399.8" y1="535.6" x2="399.8" y2="660.3" stroke="#222" stroke-width="1.0"/>
<line x1="458" y1="535.6" x2="458" y2="660.3" stroke="#333" stroke-width="0.9"/>
<text x="398.6" y="540.5" font-size="6.9" text-anchor="end" fill="#111" class="pk">25%</text>
<text x="398.6" y="565.5" font-size="6.9" text-anchor="end" fill="#111" class="pk">20%</text>
<text x="398.6" y="590" font-size="6.9" text-anchor="end" fill="#111" class="pk">15%</text>
<text x="398.6" y="615.2" font-size="6.9" text-anchor="end" fill="#111" class="pk">10%</text>
<text x="398.6" y="639.7" font-size="6.9" text-anchor="end" fill="#111" class="pk">5%</text>
<text x="398.6" y="665.2" font-size="6.9" text-anchor="end" fill="#111" class="pk">0%</text>
<rect x="408" y="628" width="11.600000000000023" height="32.69999999999995" fill="#000"/>
<rect x="437.6" y="571.3" width="12.0" height="89.4" fill="#000"/>
<line x1="414.4" y1="623" x2="414.4" y2="628" stroke="#333" stroke-width="0.9"/>
<line x1="412.9" y1="623" x2="415.9" y2="623" stroke="#333" stroke-width="0.8"/>
<line x1="443.8" y1="554.5" x2="443.8" y2="571.3" stroke="#777" stroke-width="0.9"/>
<line x1="442.3" y1="554.5" x2="445.3" y2="554.5" stroke="#777" stroke-width="0.8"/>
<polyline points="415.3,617.5 415.3,547 442.7,547 442.7,551.3" fill="none" stroke="#222" stroke-width="0.9"/>
<text x="411.3" y="545.6" font-size="7.5" fill="#111"><tspan font-style="italic">P</tspan> = 0.0044</text>
<text x="410.3" y="673.1" font-size="8.2" text-anchor="middle" fill="#111">si-EGFP</text>
<text x="450.5" y="673.1" font-size="8.2" text-anchor="middle" fill="#111">si-CSTF2</text>
<rect x="468.1" y="566.4" width="4.4" height="4.4" fill="#4f4f4f" stroke="#666" stroke-width="0.6"/>
<text x="478.8" y="571.3000000000001" font-size="7.5" fill="#111">G<tspan font-size="5" dy="1.6">2</tspan><tspan dy="-1.6">–M</tspan></text>
<rect x="468.1" y="585.9" width="4.4" height="4.4" fill="#858585" stroke="#999" stroke-width="0.6"/>
<text x="478.8" y="590.8000000000001" font-size="7.5" fill="#111">S</text>
<rect x="468.1" y="605.5" width="4.4" height="4.4" fill="#c8c8c8" stroke="#a0a0a0" stroke-width="0.6"/>
<text x="478.8" y="610.4000000000001" font-size="7.5" fill="#111">G<tspan font-size="5" dy="1.6">1</tspan></text>
<rect x="467.8" y="624.5" width="5" height="4.9" fill="#000"/>
<text x="478.8" y="629.7" font-size="7.5" fill="#111">Sub-G<tspan font-size="5" dy="1.6">1</tspan></text>
</g>
</g>
<rect x="0" y="0" width="520" height="1.1" fill="#5e5e5e"/>
<rect x="0" y="0" width="1.2" height="696" fill="#666"/>
<rect x="518.9" y="0" width="1.1" height="696" fill="#6a6a6a"/>
<rect x="0" y="694.2" width="520" height="1.8" fill="#777"/>
</svg>
</body>
</html>
